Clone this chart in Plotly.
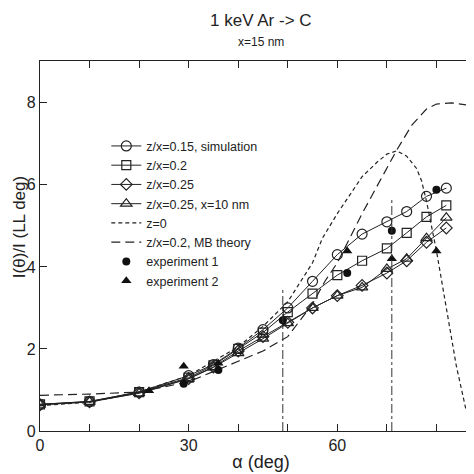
import plotly.graph_objects as go

# simulation curves
alpha_sim = [0, 10, 20, 30, 35, 40, 45, 50, 55, 60, 65, 70, 74, 78, 82]
zx015 = [0.65, 0.72, 0.95, 1.35, 1.62, 2.02, 2.47, 3.0, 3.65, 4.3, 4.8, 5.1, 5.35, 5.72, 5.92]
zx02 = [0.65, 0.72, 0.95, 1.3, 1.6, 2.0, 2.4, 2.9, 3.35, 3.8, 4.15, 4.45, 4.83, 5.22, 5.5]
zx025 = [0.64, 0.71, 0.93, 1.28, 1.56, 1.95, 2.3, 2.65, 3.0, 3.3, 3.55, 3.85, 4.15, 4.6, 4.95]
zx025_x10 = [0.64, 0.71, 0.92, 1.27, 1.55, 1.9, 2.25, 2.63, 3.0, 3.3, 3.5, 3.95, 4.2, 4.7, 5.2]

# experiments
exp1_a = [29, 36, 49, 62, 71, 80]
exp1_v = [1.15, 1.49, 2.7, 3.85, 4.88, 5.88]
exp2_a = [22, 29, 36, 62, 71, 80]
exp2_v = [0.98, 1.58, 1.65, 4.39, 4.2, 4.39]

# theory curves
z0_a = [0, 10, 20, 30, 40, 45, 50, 55, 57, 60, 65, 68, 70, 72, 74, 76, 77, 78, 79, 80, 82, 84, 86, 87, 88, 89.2]
z0_v = [0.62, 0.7, 0.95, 1.35, 2.05, 2.55, 3.15, 4.1, 4.7, 5.3, 6.2, 6.55, 6.75, 6.83, 6.7, 6.4, 6.1, 5.6, 5.0, 4.4, 3.0, 1.6, 0.5, 0.25, 0.1, 0.0]
mb_a = [0, 10, 20, 30, 40, 45, 50, 55, 57.5, 60, 65, 70, 72, 75, 78, 80, 83, 86, 89.2]
mb_v = [0.87, 0.9, 0.95, 1.2, 1.7, 1.95, 2.3, 3.1, 3.65, 4.1, 5.3, 6.4, 6.85, 7.45, 7.85, 7.97, 8.0, 7.95, 7.78]

# vertical dash-dot markers
vlines = [(49, 3.5), (71, 5.7)]

fig = go.Figure()
sim = [
    ("z/x=0.15, simulation", zx015, "circle-open", 10),
    ("z/x=0.2", zx02, "square-open", 9),
    ("z/x=0.25", zx025, "diamond-open", 9),
    ("z/x=0.25, x=10 nm", zx025_x10, "triangle-up-open", 10),
]
for name, ys, sym, sz in sim:
    fig.add_trace(go.Scatter(
        x=alpha_sim, y=ys, name=name, mode="lines+markers",
        line=dict(color="#222", width=1),
        marker=dict(symbol=sym, size=sz, color="#222", line=dict(width=1.2)),
    ))
fig.add_trace(go.Scatter(x=z0_a, y=z0_v, name="z=0", mode="lines",
                         line=dict(color="#222", width=1.2, dash="4px,3px")))
fig.add_trace(go.Scatter(x=mb_a, y=mb_v, name="z/x=0.2, MB theory", mode="lines",
                         line=dict(color="#222", width=1.2, dash="9px,5px")))
fig.add_trace(go.Scatter(x=exp1_a, y=exp1_v, name="experiment 1", mode="markers",
                         marker=dict(symbol="circle", size=8, color="#111")))
fig.add_trace(go.Scatter(x=exp2_a, y=exp2_v, name="experiment 2", mode="markers",
                         marker=dict(symbol="triangle-up", size=9, color="#111")))
for xv, top in vlines:
    fig.add_trace(go.Scatter(x=[xv, xv], y=[0, top], mode="lines", showlegend=False,
                             line=dict(color="#333", width=1, dash="dashdot")))

fig.add_annotation(text="1 keV Ar -> C", x=0.5, y=1.14, xref="paper", yref="paper",
                   showarrow=False, font=dict(size=17))
fig.add_annotation(text="x=15 nm", x=0.5, y=1.075, xref="paper", yref="paper",
                   showarrow=False, font=dict(size=12))
fig.add_annotation(text="I(θ)/I (LL deg)", x=-0.072, y=0.55, xref="paper", yref="paper",
                   showarrow=False, textangle=-90, font=dict(size=17))

axis = dict(showline=True, linecolor="#222", linewidth=1.2, mirror="ticks", ticks="inside",
            ticklen=7, tickcolor="#222", showgrid=False, zeroline=False, automargin=False,
            tickfont=dict(size=16, color="#222"))
fig.update_xaxes(**axis, range=[0, 89.2], tickvals=[0, 30, 60, 90],
                 minor=dict(tickvals=[10, 20, 40, 50, 70, 80], ticks="inside", ticklen=7, tickcolor="#222"),
                 title=dict(text="α (deg)", font=dict(size=18), standoff=2))
fig.update_yaxes(**axis, range=[0, 9.02], tickvals=[0, 2, 4, 6, 8])
fig.update_layout(
    width=474, height=474, margin=dict(l=32, r=0, t=53, b=51),
    paper_bgcolor="white", plot_bgcolor="white",
    font=dict(family="Liberation Sans, Arial", color="#222"),
    legend=dict(x=0.15, y=0.81, bgcolor="rgba(0,0,0,0)", font=dict(size=12.5),
                tracegroupgap=0, itemwidth=30),
)
fig.write_html("out.html")
